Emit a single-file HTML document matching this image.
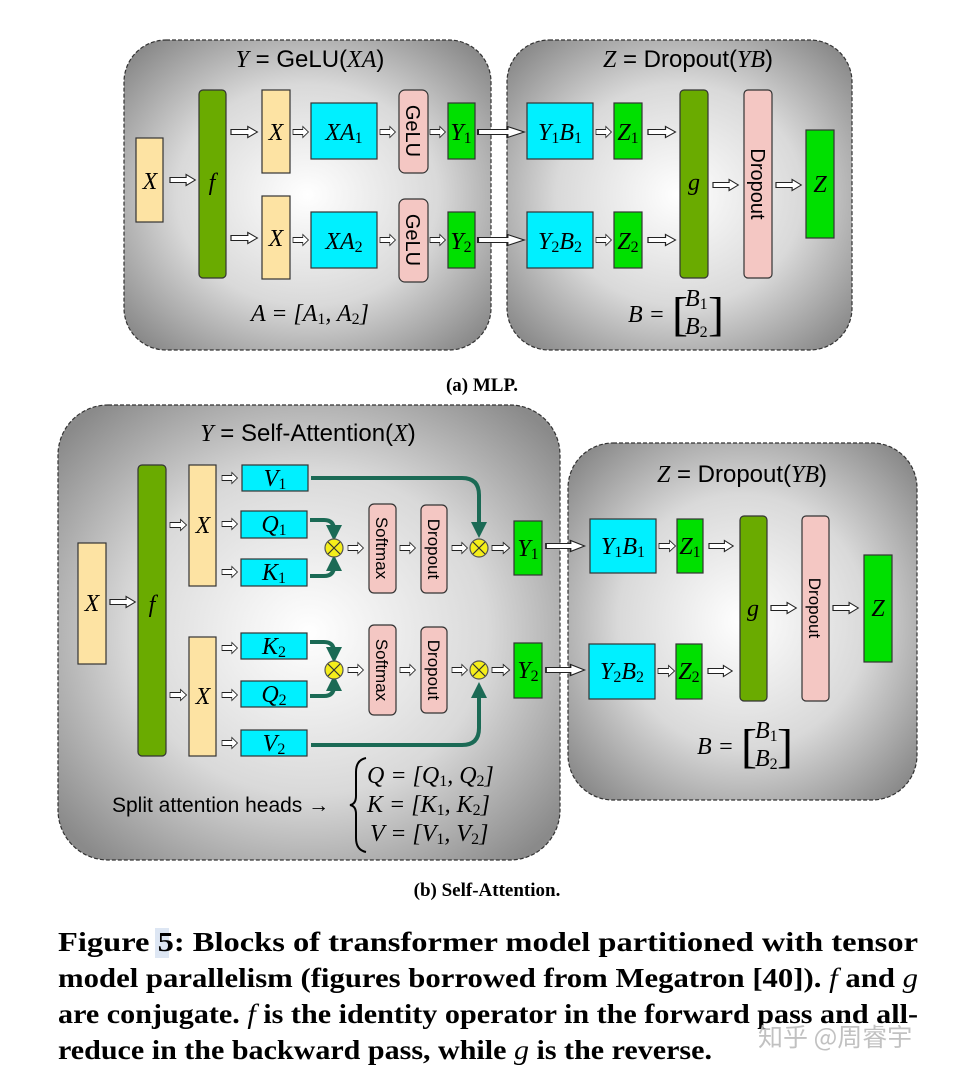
<!DOCTYPE html>
<html><head><meta charset="utf-8"><style>
html,body{margin:0;padding:0;background:#fff;}
svg{display:block;}
.m{font-family:"Liberation Serif",serif;font-style:italic;}
.s{font-family:"Liberation Sans",sans-serif;}
.sub{font-size:16px;font-style:normal;}
.cap{font-family:"Liberation Serif",serif;font-weight:bold;}
</style></head><body>
<svg width="964" height="1074" viewBox="0 0 964 1074" xmlns="http://www.w3.org/2000/svg">
<defs>
<radialGradient id="gr" cx="50%" cy="50%" r="65%">
<stop offset="0" stop-color="#ffffff"/><stop offset="0.55" stop-color="#d9d9d9"/><stop offset="1" stop-color="#8a8a8a"/>
</radialGradient>
<path id="ar" d="M0,-2.5 H14 V-5.5 L22,0 L14,5.5 V2.5 H0 Z" fill="#fff" stroke="#222" stroke-width="1"/>
<marker id="ah" markerWidth="4" markerHeight="4" refX="2" refY="2" orient="auto" markerUnits="strokeWidth"><path d="M0,0 L4,2 L0,4 Z" fill="#1b6a55"/></marker>
</defs>
<g stroke="#333" stroke-width="1.2" stroke-dasharray="4,2">
<rect x="124" y="40" width="367" height="310" rx="42" fill="url(#gr)"/>
<rect x="507" y="40" width="345" height="310" rx="42" fill="url(#gr)"/>
<rect x="58" y="405" width="502" height="455" rx="50" fill="url(#gr)"/>
<rect x="568" y="443" width="349" height="357" rx="45" fill="url(#gr)"/>
</g>
<g stroke="#333" stroke-width="1.2">
<rect x="136" y="138" width="27" height="84" fill="#fde3a3"/>
<rect x="199" y="90" width="27" height="188" rx="4" fill="#6aab00"/>
<rect x="262" y="90" width="28" height="83" fill="#fde3a3"/>
<rect x="262" y="196" width="28" height="83" fill="#fde3a3"/>
<rect x="311" y="103" width="66" height="56" fill="#00f0ff"/>
<rect x="311" y="212" width="66" height="56" fill="#00f0ff"/>
<rect x="399" y="90" width="29" height="83" rx="6" fill="#f4c7c3"/>
<rect x="399" y="199" width="29" height="83" rx="6" fill="#f4c7c3"/>
<rect x="448" y="103" width="27" height="56" fill="#00e000"/>
<rect x="448" y="212" width="27" height="56" fill="#00e000"/>
<rect x="527" y="103" width="66" height="56" fill="#00f0ff"/>
<rect x="527" y="212" width="66" height="56" fill="#00f0ff"/>
<rect x="614" y="103" width="28" height="56" fill="#00e000"/>
<rect x="614" y="212" width="28" height="56" fill="#00e000"/>
<rect x="680" y="90" width="28" height="188" rx="4" fill="#6aab00"/>
<rect x="744" y="90" width="28" height="188" rx="4" fill="#f4c7c3"/>
<rect x="806" y="130" width="28" height="108" fill="#00e000"/>
<rect x="78" y="543" width="28" height="121" fill="#fde3a3"/>
<rect x="138" y="465" width="28" height="291" rx="4" fill="#6aab00"/>
<rect x="189" y="465" width="27" height="121" fill="#fde3a3"/>
<rect x="189" y="637" width="27" height="119" fill="#fde3a3"/>
<rect x="242" y="465" width="66" height="26" fill="#00f0ff"/>
<rect x="241" y="511" width="66" height="27" fill="#00f0ff"/>
<rect x="241" y="559" width="66" height="27" fill="#00f0ff"/>
<rect x="241" y="633" width="66" height="26" fill="#00f0ff"/>
<rect x="241" y="681" width="66" height="26" fill="#00f0ff"/>
<rect x="241" y="730" width="66" height="26" fill="#00f0ff"/>
<rect x="369" y="504" width="27" height="89" rx="5" fill="#f4c7c3"/>
<rect x="421" y="505" width="26" height="88" rx="5" fill="#f4c7c3"/>
<rect x="369" y="625" width="27" height="90" rx="5" fill="#f4c7c3"/>
<rect x="421" y="627" width="26" height="86" rx="5" fill="#f4c7c3"/>
<rect x="514" y="521" width="28" height="54" fill="#00e000"/>
<rect x="514" y="643" width="28" height="55" fill="#00e000"/>
<rect x="590" y="519" width="66" height="54" fill="#00f0ff"/>
<rect x="589" y="644" width="66" height="55" fill="#00f0ff"/>
<rect x="677" y="519" width="26" height="54" fill="#00e000"/>
<rect x="676" y="644" width="26" height="55" fill="#00e000"/>
<rect x="740" y="516" width="27" height="185" rx="4" fill="#6aab00"/>
<rect x="802" y="516" width="27" height="185" rx="4" fill="#f4c7c3"/>
<rect x="864" y="555" width="28" height="107" fill="#00e000"/>
</g>
<g fill="none" stroke="#1b6a55" stroke-width="4">
<path d="M311,478 H462 Q479,478 479,495 V530" marker-end="url(#ah)"/>
<path d="M311,745 H462 Q479,745 479,728 V690" marker-end="url(#ah)"/>
<path d="M310,520 H324 Q334,520 334,530 V533" marker-end="url(#ah)"/>
<path d="M310,576 H324 Q334,576 334,566 V563" marker-end="url(#ah)"/>
<path d="M310,642 H324 Q334,642 334,652 V655" marker-end="url(#ah)"/>
<path d="M310,696 H324 Q334,696 334,686 V683" marker-end="url(#ah)"/>
</g>
<g stroke="#555" stroke-width="1.2" fill="#f5ee1a">
<circle cx="334" cy="548" r="9"/><circle cx="479" cy="548" r="9"/>
<circle cx="334" cy="670" r="9"/><circle cx="479" cy="670" r="9"/>
</g>
<g stroke="#333" stroke-width="1.2">
<path d="M328,542 l12,12 M340,542 l-12,12 M473,542 l12,12 M485,542 l-12,12 M328,664 l12,12 M340,664 l-12,12 M473,664 l12,12 M485,664 l-12,12"/>
</g>
<use href="#ar" transform="translate(170,180) scale(1.15,1)"/>
<use href="#ar" transform="translate(231,132) scale(1.2,1)"/>
<use href="#ar" transform="translate(231,238) scale(1.2,1)"/>
<use href="#ar" transform="translate(293,132) scale(0.7,1)"/>
<use href="#ar" transform="translate(293,240) scale(0.7,1)"/>
<use href="#ar" transform="translate(380,132) scale(0.7,1)"/>
<use href="#ar" transform="translate(380,240) scale(0.7,1)"/>
<use href="#ar" transform="translate(430,132) scale(0.7,1)"/>
<use href="#ar" transform="translate(430,240) scale(0.7,1)"/>
<use href="#ar" transform="translate(478,132) scale(2.1,1)"/>
<use href="#ar" transform="translate(478,240) scale(2.1,1)"/>
<use href="#ar" transform="translate(596,132) scale(0.7,1)"/>
<use href="#ar" transform="translate(596,240) scale(0.7,1)"/>
<use href="#ar" transform="translate(648,132) scale(1.25,1)"/>
<use href="#ar" transform="translate(648,240) scale(1.25,1)"/>
<use href="#ar" transform="translate(713,185) scale(1.15,1)"/>
<use href="#ar" transform="translate(776,185) scale(1.15,1)"/>
<use href="#ar" transform="translate(110,602) scale(1.15,1)"/>
<use href="#ar" transform="translate(170,525) scale(0.75,1)"/>
<use href="#ar" transform="translate(170,695) scale(0.75,1)"/>
<use href="#ar" transform="translate(222,478) scale(0.7,1)"/>
<use href="#ar" transform="translate(222,524) scale(0.7,1)"/>
<use href="#ar" transform="translate(222,572) scale(0.7,1)"/>
<use href="#ar" transform="translate(222,648) scale(0.7,1)"/>
<use href="#ar" transform="translate(222,695) scale(0.7,1)"/>
<use href="#ar" transform="translate(222,743) scale(0.7,1)"/>
<use href="#ar" transform="translate(348,548) scale(0.7,1)"/>
<use href="#ar" transform="translate(400,548) scale(0.7,1)"/>
<use href="#ar" transform="translate(452,548) scale(0.7,1)"/>
<use href="#ar" transform="translate(492,548) scale(0.8,1)"/>
<use href="#ar" transform="translate(348,670) scale(0.7,1)"/>
<use href="#ar" transform="translate(400,670) scale(0.7,1)"/>
<use href="#ar" transform="translate(452,670) scale(0.7,1)"/>
<use href="#ar" transform="translate(492,670) scale(0.8,1)"/>
<use href="#ar" transform="translate(546,546) scale(1.75,1)"/>
<use href="#ar" transform="translate(546,670) scale(1.75,1)"/>
<use href="#ar" transform="translate(659,546) scale(0.75,1)"/>
<use href="#ar" transform="translate(658,671) scale(0.75,1)"/>
<use href="#ar" transform="translate(709,546) scale(1.1,1)"/>
<use href="#ar" transform="translate(708,671) scale(1.1,1)"/>
<use href="#ar" transform="translate(771,608) scale(1.15,1)"/>
<use href="#ar" transform="translate(833,608) scale(1.15,1)"/>
<g font-size="24" text-anchor="middle" fill="#000">
<text x="310" y="67" class="s"><tspan class="m">Y</tspan> = GeLU(<tspan class="m">XA</tspan>)</text>
<text x="688" y="67" class="s"><tspan class="m">Z</tspan> = Dropout(<tspan class="m">YB</tspan>)</text>
<text x="150" y="189" class="m">X</text>
<text x="212" y="190" class="m">f</text>
<text x="276" y="140" class="m">X</text>
<text x="276" y="246" class="m">X</text>
<text x="344" y="140" class="m">XA<tspan class="sub" dy="3">1</tspan></text>
<text x="344" y="249" class="m">XA<tspan class="sub" dy="3">2</tspan></text>
<text x="461" y="140" class="m">Y<tspan class="sub" dy="3">1</tspan></text>
<text x="461" y="249" class="m">Y<tspan class="sub" dy="3">2</tspan></text>
<text x="560" y="140" class="m">Y<tspan class="sub" dy="3">1</tspan><tspan dy="-3">B</tspan><tspan class="sub" dy="3">1</tspan></text>
<text x="560" y="249" class="m">Y<tspan class="sub" dy="3">2</tspan><tspan dy="-3">B</tspan><tspan class="sub" dy="3">2</tspan></text>
<text x="628" y="140" class="m">Z<tspan class="sub" dy="3">1</tspan></text>
<text x="628" y="249" class="m">Z<tspan class="sub" dy="3">2</tspan></text>
<text x="694" y="190" class="m">g</text>
<text x="820" y="192" class="m">Z</text>
<text x="310" y="321" class="m">A = [A<tspan class="sub" dy="3">1</tspan><tspan dy="-3">, A</tspan><tspan class="sub" dy="3">2</tspan><tspan dy="-3">]</tspan></text>
<text x="413" y="131" class="s" font-size="20" transform="rotate(90 413 131)" dy="7">GeLU</text>
<text x="413" y="240" class="s" font-size="20" transform="rotate(90 413 240)" dy="7">GeLU</text>
<text x="758" y="184" class="s" font-size="20" transform="rotate(90 758 184)" dy="7">Dropout</text>
</g>
<g font-size="24" fill="#000">
<text x="628" y="322" class="m">B =</text>
<text x="672" y="330" font-size="48" font-family="Liberation Serif">[</text>
<text x="708" y="330" font-size="48" font-family="Liberation Serif">]</text>
<text x="685" y="306" class="m">B<tspan class="sub" dy="3">1</tspan></text>
<text x="685" y="334" class="m">B<tspan class="sub" dy="3">2</tspan></text>
</g>
<text x="482" y="391" text-anchor="middle" class="cap" font-size="19">(a) MLP.</text>
<g font-size="24" text-anchor="middle" fill="#000">
<text x="308" y="441" class="s"><tspan class="m">Y</tspan> = Self-Attention(<tspan class="m">X</tspan>)</text>
<text x="742" y="482" class="s"><tspan class="m">Z</tspan> = Dropout(<tspan class="m">YB</tspan>)</text>
<text x="92" y="611" class="m">X</text>
<text x="152" y="612" class="m">f</text>
<text x="203" y="533" class="m">X</text>
<text x="203" y="704" class="m">X</text>
<text x="275" y="486" class="m">V<tspan class="sub" dy="3">1</tspan></text>
<text x="274" y="532" class="m">Q<tspan class="sub" dy="3">1</tspan></text>
<text x="274" y="580" class="m">K<tspan class="sub" dy="3">1</tspan></text>
<text x="274" y="654" class="m">K<tspan class="sub" dy="3">2</tspan></text>
<text x="274" y="702" class="m">Q<tspan class="sub" dy="3">2</tspan></text>
<text x="274" y="751" class="m">V<tspan class="sub" dy="3">2</tspan></text>
<text x="528" y="556" class="m">Y<tspan class="sub" dy="3">1</tspan></text>
<text x="528" y="678" class="m">Y<tspan class="sub" dy="3">2</tspan></text>
<text x="623" y="554" class="m">Y<tspan class="sub" dy="3">1</tspan><tspan dy="-3">B</tspan><tspan class="sub" dy="3">1</tspan></text>
<text x="622" y="679" class="m">Y<tspan class="sub" dy="3">2</tspan><tspan dy="-3">B</tspan><tspan class="sub" dy="3">2</tspan></text>
<text x="690" y="554" class="m">Z<tspan class="sub" dy="3">1</tspan></text>
<text x="689" y="679" class="m">Z<tspan class="sub" dy="3">2</tspan></text>
<text x="753" y="616" class="m">g</text>
<text x="878" y="616" class="m">Z</text>
<text x="382" y="548" class="s" font-size="17" transform="rotate(90 382 548)" dy="6">Softmax</text>
<text x="434" y="549" class="s" font-size="17" transform="rotate(90 434 549)" dy="6">Dropout</text>
<text x="382" y="670" class="s" font-size="17" transform="rotate(90 382 670)" dy="6">Softmax</text>
<text x="434" y="670" class="s" font-size="17" transform="rotate(90 434 670)" dy="6">Dropout</text>
<text x="815" y="608" class="s" font-size="17" transform="rotate(90 815 608)" dy="6">Dropout</text>
</g>
<g font-size="24" fill="#000">
<text x="697" y="754" class="m">B =</text>
<text x="741" y="762" font-size="48" font-family="Liberation Serif">[</text>
<text x="777" y="762" font-size="48" font-family="Liberation Serif">]</text>
<text x="755" y="738" class="m">B<tspan class="sub" dy="3">1</tspan></text>
<text x="755" y="766" class="m">B<tspan class="sub" dy="3">2</tspan></text>
<text x="112" y="812" class="s" font-size="21">Split attention heads →</text>
<text x="367" y="783" class="m">Q = [Q<tspan class="sub" dy="3">1</tspan><tspan dy="-3">, Q</tspan><tspan class="sub" dy="3">2</tspan><tspan dy="-3">]</tspan></text>
<text x="367" y="812" class="m">K = [K<tspan class="sub" dy="3">1</tspan><tspan dy="-3">, K</tspan><tspan class="sub" dy="3">2</tspan><tspan dy="-3">]</tspan></text>
<text x="370" y="841" class="m">V = [V<tspan class="sub" dy="3">1</tspan><tspan dy="-3">, V</tspan><tspan class="sub" dy="3">2</tspan><tspan dy="-3">]</tspan></text>
</g>
<path d="M366,758 Q356,760 356,772 V796 Q356,804 350,805 Q356,806 356,814 V838 Q356,850 366,852" fill="none" stroke="#000" stroke-width="2"/>
<text x="487" y="896" text-anchor="middle" class="cap" font-size="19">(b) Self-Attention.</text>
<g class="cap" font-size="27" fill="#000">
<rect x="155" y="928" width="14" height="30" fill="#dde6f3"/>
<text x="58" y="951" textLength="860" lengthAdjust="spacingAndGlyphs">Figure 5: Blocks of transformer model partitioned with tensor</text>
<text x="58" y="987" textLength="860" lengthAdjust="spacingAndGlyphs">model parallelism (figures borrowed from Megatron [40]). <tspan font-style="italic" font-weight="normal">f</tspan> and <tspan font-style="italic" font-weight="normal">g</tspan></text>
<text x="58" y="1023" textLength="860" lengthAdjust="spacingAndGlyphs">are conjugate. <tspan font-style="italic" font-weight="normal">f</tspan> is the identity operator in the forward pass and all-</text>
<text x="58" y="1059" textLength="654" lengthAdjust="spacingAndGlyphs">reduce in the backward pass, while <tspan font-style="italic" font-weight="normal">g</tspan> is the reverse.</text>
</g>
<text x="758" y="1046" font-family="'Noto Sans CJK SC',sans-serif" font-size="25" fill="#bbb" opacity="0.9">知乎 @周睿宇</text>
</svg>
</body></html>
